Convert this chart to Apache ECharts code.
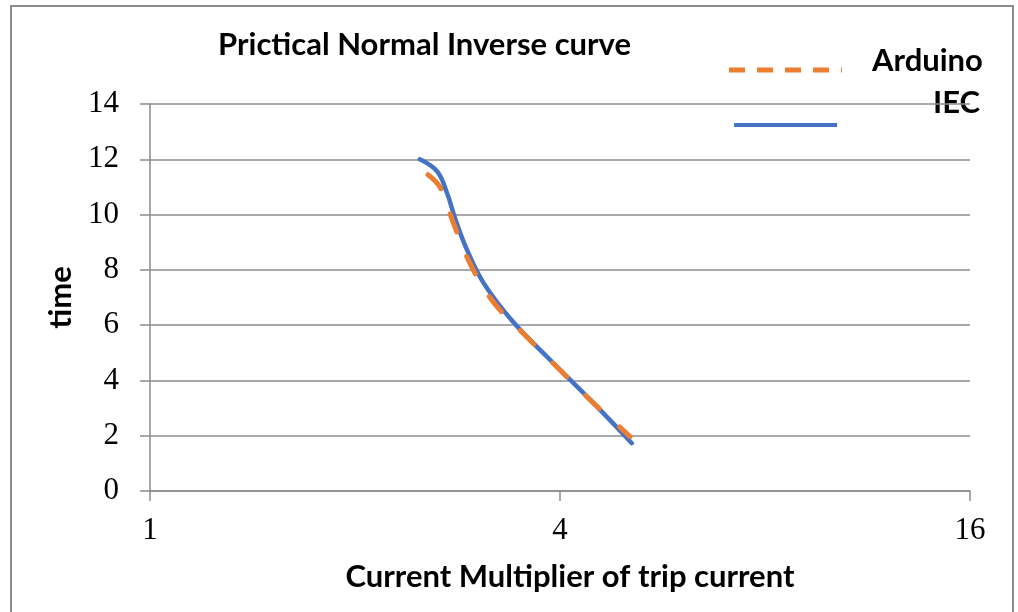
<!DOCTYPE html>
<html>
<head>
<meta charset="utf-8">
<script src="https://cdn.jsdelivr.net/npm/echarts@6/dist/echarts.min.js"></script>
<style>
  html, body { margin: 0; padding: 0; background: #fff; }
  #chart { width: 1018px; height: 612px; }
</style>
</head>
<body>
<div id="chart"></div>
<script>
// values
var iecX = [2.49, 2.64, 2.73, 2.81, 2.92, 3.09, 3.41, 3.87, 4.48, 5.10];
var iecY = [12.0, 11.56, 10.78, 9.81, 8.73, 7.52, 6.13, 4.74, 3.18, 1.73];
var ardX = [2.56, 2.67, 2.79, 2.95, 3.19, 3.57, 4.0, 4.48, 5.07];
var ardY = [11.44, 10.96, 9.69, 8.24, 6.85, 5.59, 4.38, 3.18, 1.97];
var xTicks = [1, 4, 16];
var yTicks = [0, 2, 4, 6, 8, 10, 12, 14];

var grey = '#8c8c8c';
var blue = '#4472C4';
var orange = '#ED7D31';
var sans = 'Lato';
var serif = 'Liberation Serif';

function pairs(xs, ys) {
    var out = [];
    for (var i = 0; i < xs.length; i++) {
        out.push([xs[i], ys[i]]);
    }
    return out;
}

var boldText = { fontFamily: sans, fontWeight: 'bold', fontSize: 31, color: '#000' };

var chart = echarts.init(document.getElementById('chart'));
chart.setOption({
    animation: false,
    title: {
        text: 'Prictical Normal Inverse curve',
        left: 213,
        top: 24,
        textStyle: boldText
    },
    grid: { left: 150, right: 48, top: 104, bottom: 121 },
    xAxis: {
        type: 'log',
        logBase: 4,
        min: xTicks[0],
        max: xTicks[xTicks.length - 1],
        name: 'Current Multiplier of trip current',
        nameLocation: 'middle',
        nameGap: 70,
        nameTextStyle: { fontFamily: sans, fontWeight: 'bold', fontSize: 31, color: '#000', padding: [0, 0, 0, 20] },
        axisLine: { lineStyle: { color: grey, width: 1.5 } },
        axisTick: { show: true, length: 10, lineStyle: { color: grey, width: 1.5 } },
        splitLine: { show: false },
        minorTick: { show: false },
        axisLabel: { margin: 24, fontFamily: serif, fontSize: 31, color: '#000' }
    },
    yAxis: {
        type: 'value',
        min: yTicks[0],
        max: yTicks[yTicks.length - 1],
        interval: 2,
        name: 'time',
        nameLocation: 'middle',
        nameGap: 74,
        nameTextStyle: boldText,
        axisLine: { show: true, lineStyle: { color: grey, width: 1.5 } },
        axisTick: { show: true, length: 10, lineStyle: { color: grey, width: 1.5 } },
        splitLine: { lineStyle: { color: grey, width: 1.5 } },
        axisLabel: { margin: 31, fontFamily: serif, fontSize: 31, color: '#000' }
    },
    //outer frame and the legend, laid out like the original
    graphic: [{
        type: 'rect',
        shape: { x: 11, y: 6, width: 1002, height: 650 },
        style: { fill: 'none', stroke: grey, lineWidth: 2 },
        silent: true
    }, {
        type: 'line',
        shape: { x1: 729, y1: 70, x2: 842, y2: 70 },
        style: { stroke: orange, lineWidth: 5, lineDash: [16, 12] }
    }, {
        type: 'text',
        left: 872,
        top: 45,
        style: { text: 'Arduino', font: 'bold 31px Lato', fill: '#000' }
    }, {
        type: 'line',
        shape: { x1: 734, y1: 125, x2: 837, y2: 125 },
        style: { stroke: blue, lineWidth: 4 }
    }, {
        type: 'text',
        right: 38,
        top: 87,
        style: { text: 'IEC', font: 'bold 31px Lato', fill: '#000' }
    }],
    series: [{
        name: 'IEC',
        type: 'line',
        data: pairs(iecX, iecY),
        smooth: 0.4,
        showSymbol: false,
        symbol: 'none',
        lineStyle: { color: blue, width: 4.5, cap: 'round' },
        itemStyle: { color: blue }
    }, {
        name: 'Arduino',
        type: 'line',
        data: pairs(ardX, ardY),
        smooth: 0.4,
        showSymbol: false,
        symbol: 'none',
        lineStyle: { color: orange, width: 5, type: [19, 27], cap: 'round' },
        itemStyle: { color: orange }
    }]
});
</script>
</body>
</html>
